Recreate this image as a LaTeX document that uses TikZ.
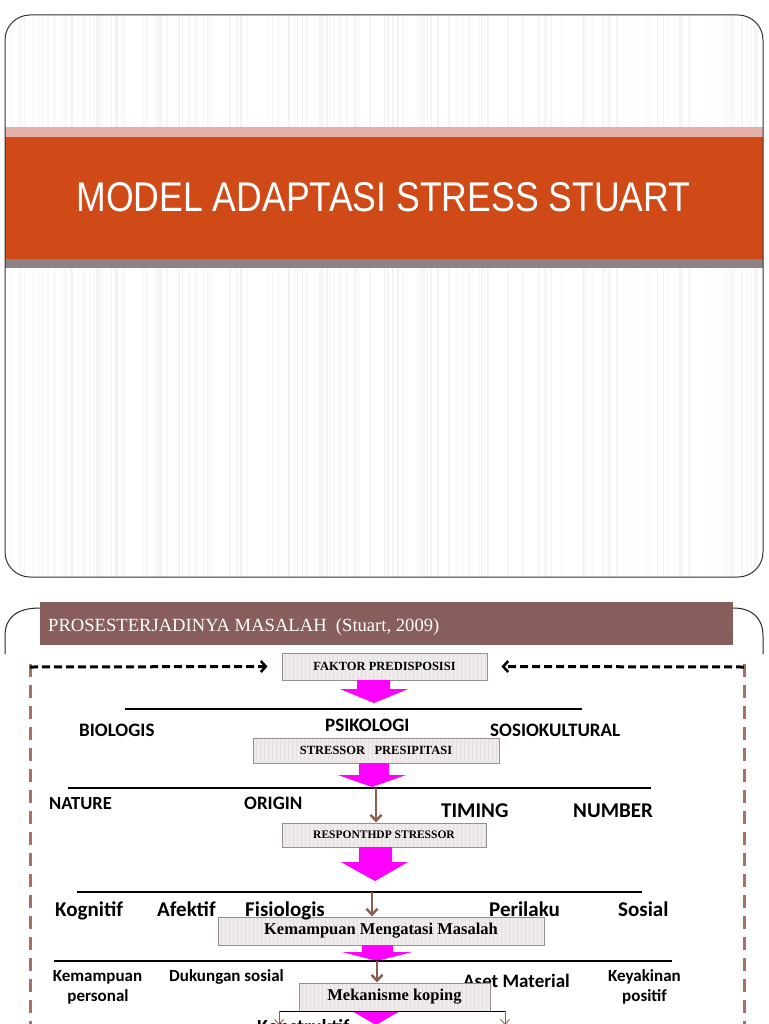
\documentclass[tikz,border=0pt]{standalone}
\usepackage{fontspec}
\setmainfont{Liberation Serif}
\newfontfamily\calfont{Carlito}
\newfontfamily\titlefont{Liberation Sans}
\usetikzlibrary{arrows.meta}
\definecolor{orangeband}{RGB}{208,74,24}
\definecolor{pinkband}{RGB}{230,176,170}
\definecolor{grayband}{RGB}{142,131,132}
\definecolor{headerbrown}{RGB}{135,94,92}
\definecolor{dashbrown}{RGB}{166,112,98}
\definecolor{arrowbrown}{RGB}{140,94,80}
\definecolor{boxfill}{RGB}{240,236,236}
\definecolor{boxstripe}{RGB}{228,222,222}
\definecolor{boxline}{RGB}{150,145,145}
\definecolor{pinkarrow}{RGB}{255,0,255}
\newcommand\fsz[1]{\fontsize{#1}{#1}\selectfont}
\begin{document}
\begin{tikzpicture}[x=1pt,y=-1pt,
  stepbox/.style={draw=boxline, line width=1pt, fill=boxfill, inner sep=0pt, font=\bfseries,
    path picture={\foreach \k in {3,7,...,340}{\draw[boxstripe, line width=0.8pt]
      ([xshift=\k pt]path picture bounding box.south west) -- ([xshift=\k pt]path picture bounding box.north west);}}},
  lbl/.style={font=\calfont\bfseries, inner sep=0pt, anchor=base west},
  clbl/.style={font=\calfont\bfseries, inner sep=0pt, anchor=base},
  hline/.style={draw=black, line width=1.4pt},
  brownarrow/.style={draw=arrowbrown, line width=2.6pt, -{Straight Barb[length=6pt,width=11pt,line width=2.4pt]}},
  thinarrow/.style={draw=arrowbrown, line width=0.9pt, -{Straight Barb[length=5pt,width=9pt]}},
  blackdash/.style={draw=black, line width=3pt, dash pattern=on 8pt off 4pt, -{Straight Barb[length=5pt,width=11pt,line width=2.5pt]}},
  browndash/.style={draw=dashbrown, line width=3pt, dash pattern=on 13pt off 8pt},
  magarrow/.style={fill=pinkarrow, draw=none}
]
\useasboundingbox (0,0) rectangle (768,1024);
\fill[white] (0,0) rectangle (768,1024);

% ---------- slide 1 ----------
\begin{scope}
  \clip[rounded corners=25pt] (5,15) rectangle (763,577);
  \pgfmathsetseed{42}
  \foreach \i in {1,...,170}{
    \pgfmathsetmacro\xx{6+rnd*756}
    \pgfmathsetmacro\ww{0.4+rnd*1.8}
    \pgfmathsetmacro\gg{1.5+rnd*4}
    \draw[line width=\ww pt, color=black!\gg] (\xx,15) -- (\xx,577);
  }
\end{scope}
\fill[pinkband] (5,127) rectangle (763,137);
\fill[orangeband] (5,137) rectangle (763,259);
\fill[grayband] (5,259) rectangle (763,268);
\draw[black!80, line width=1pt, rounded corners=25pt] (5,15) rectangle (763,577);
\node[text=white, inner sep=0pt] (title) at (383.5,197) {\resizebox{614pt}{29pt}{\titlefont MODEL ADAPTASI STRESS STUART}};

% ---------- slide 2 ----------
\draw[black!85, line width=1pt] (5,654) -- (5,636) .. controls (5,618) and (16,608) .. (40,608);
\draw[black!85, line width=1pt] (733,608) .. controls (752,608) and (763,618) .. (763,636) -- (763,654);
\fill[headerbrown] (40,602) rectangle (733,645);
\node[anchor=base west, inner sep=0pt, text=white, font=\fsz{18.6}] (hdr) at (48,631) {PROSESTERJADINYA MASALAH~~(Stuart, 2009)};

% boxes
\node[stepbox, minimum width=205pt, minimum height=27pt, font=\bfseries\fsz{12.5}] (fp) at (384.5,666.5) {FAKTOR PREDISPOSISI};
\node[stepbox, minimum width=246pt, minimum height=25pt, font=\bfseries\fsz{12.5}] (sp) at (376,750.5) {STRESSOR\ \ \ PRESIPITASI};
\node[stepbox, minimum width=204pt, minimum height=24pt, font=\bfseries\fsz{11.5}] (rs) at (384,835) {RESPONTHDP STRESSOR};
\node[stepbox, minimum width=326pt, minimum height=28pt, font=\bfseries\fsz{16.5}] (km) at (381,931) {Kemampuan Mengatasi Masalah};

% dashed frame
\coordinate (tl) at (30,667);
\coordinate (tr) at (744,667);
\coordinate (bl) at (30,1030);
\coordinate (br) at (744,1030);
\draw[browndash] ([yshift=3pt]tl) -- (bl);
\draw[browndash] ([yshift=3pt]tr) -- (br);
\draw[blackdash] (tl) -- ([xshift=-14pt]fp.west);
\draw[blackdash] (tr) -- ([xshift=14pt]fp.east);

% magenta arrows
\fill[magarrow] (357,680) -- (390,680) -- (390,689) -- (408,689) -- (374,703) -- (340,689) -- (357,689) -- cycle;
\fill[magarrow] (359,763) -- (389,763) -- (389,775) -- (406,775) -- (372,787) -- (338,775) -- (359,775) -- cycle;
\fill[magarrow] (359,847) -- (392,847) -- (392,862) -- (408,862) -- (375,881) -- (341,862) -- (359,862) -- cycle;
\fill[magarrow] (362,945) -- (393,945) -- (393,952) -- (412,952) -- (377,961) -- (342,952) -- (362,952) -- cycle;
\fill[magarrow] (352,1011) -- (400,1011) -- (376,1025) -- cycle;

% horizontal lines
\coordinate (l1a) at (125,709); \coordinate (l1b) at (582,709);
\coordinate (l2a) at (68,788);  \coordinate (l2b) at (651,788);
\coordinate (l3a) at (77,892);  \coordinate (l3b) at (642,892);
\coordinate (l4a) at (54,961);  \coordinate (l4b) at (672,961);
\draw[hline] (l1a) -- (l1b);
\draw[hline] (l2a) -- (l2b);
\draw[hline] (l3a) -- (l3b);
\draw[hline] (l4a) -- (l4b);

% labels row 1
\node[lbl, font=\calfont\bfseries\fsz{19}] (bio) at (79,736) {BIOLOGIS};
\node[lbl, font=\calfont\bfseries\fsz{19}] (psi) at (325,731) {PSIKOLOGI};
\node[lbl, font=\calfont\bfseries\fsz{19}] (sos) at (490,736) {SOSIOKULTURAL};
% row 2
\node[lbl, font=\calfont\bfseries\fsz{18.5}] (nat) at (49,809) {NATURE};
\node[lbl, font=\calfont\bfseries\fsz{19}] (ori) at (244,809) {ORIGIN};
\node[lbl, font=\calfont\bfseries\fsz{21}] (tim) at (441,817) {TIMING};
\node[lbl, font=\calfont\bfseries\fsz{21}] (num) at (573,817) {NUMBER};
% row 3
\node[lbl, font=\calfont\bfseries\fsz{21}] (kog) at (55,916) {Kognitif};
\node[lbl, font=\calfont\bfseries\fsz{21}] (afe) at (157,916) {Afektif};
\node[lbl, font=\calfont\bfseries\fsz{21}] (fis) at (245,916) {Fisiologis};
\node[lbl, font=\calfont\bfseries\fsz{21}] (per) at (489,916) {Perilaku};
\node[lbl, font=\calfont\bfseries\fsz{21}] (sosial) at (618,916) {Sosial};
% row 4
\node[clbl, font=\calfont\bfseries\fsz{17}] (kp1) at (97.5,981) {Kemampuan};
\node[clbl, font=\calfont\bfseries\fsz{17}] (kp2) at (98,1001) {personal};
\node[lbl, font=\calfont\bfseries\fsz{17}] (duk) at (169,981) {Dukungan sosial};
\node[lbl, font=\calfont\bfseries\fsz{19}] (aset) at (463,987) {Aset Material};
\node[clbl, font=\calfont\bfseries\fsz{17}] (key1) at (644.5,981) {Keyakinan};
\node[clbl, font=\calfont\bfseries\fsz{17}] (key2) at (644.5,1001) {positif};

\node[stepbox, minimum width=191pt, minimum height=28pt, font=\bfseries\fsz{16.5}] (mk) at (394.5,997) {Mekanisme koping};

% brown arrows
\coordinate (a2) at (376,788);
\coordinate (a3) at (372,892);
\coordinate (a4) at (377,961);
\draw[brownarrow] (a2) -- (a2 |- rs.north);
\draw[brownarrow] (a3) -- (a3 |- km.north);
\draw[brownarrow] (a4) -- (a4 |- mk.north);

% bottom split
\coordinate (l5a) at (279,1011); \coordinate (l5b) at (505,1011);
\coordinate (e5a) at (279,1025); \coordinate (e5b) at (505,1025);
\draw[black, line width=0.9pt] (l5a) -- (l5b);
\draw[thinarrow] (l5a) -- (e5a);
\draw[thinarrow] (l5b) -- (e5b);
\node[lbl, font=\calfont\bfseries\fsz{20}] (kons) at (257,1033) {Konstruktif};
\end{tikzpicture}
\end{document}
